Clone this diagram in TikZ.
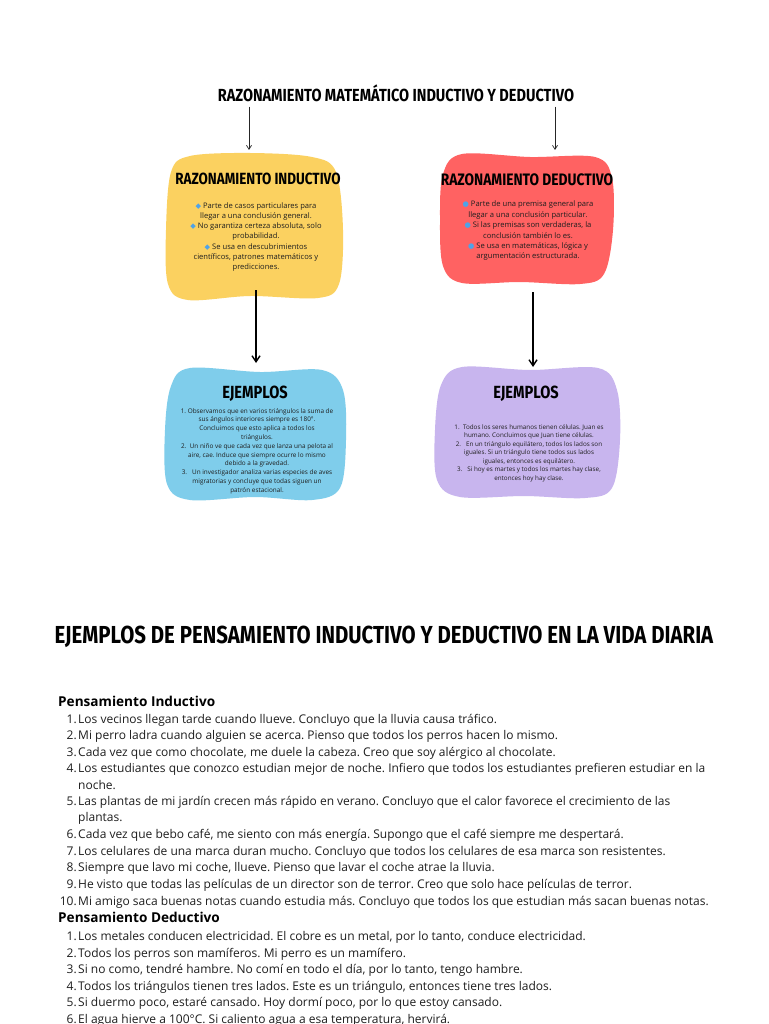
\documentclass[tikz,border=0pt]{standalone}
\usepackage{fontspec}
\setmainfont{Open Sans}
\newfontfamily\headfont[FakeStretch=0.83]{Fira Sans}
\newfontfamily\symfont{DejaVu Sans}
\usetikzlibrary{arrows.meta}
\frenchspacing
\definecolor{yel}{HTML}{FBD160}
\definecolor{redb}{HTML}{FF6262}
\definecolor{blu}{HTML}{7FCDEB}
\definecolor{pur}{HTML}{C8B5EE}
\definecolor{bul}{HTML}{4FA3E8}
\definecolor{txt}{HTML}{1E1E1E}
\newcommand{\dbul}{{\symfont\color{bul}\scalebox{0.95}{◆}}}
\newcommand{\cbul}{{\symfont\color{bul}\scalebox{0.95}{●}}}
\begin{document}
\begin{tikzpicture}[x=1pt,y=-1pt,
  headtxt/.style={font=\headfont\bfseries, text=black, inner sep=0pt},
  boxtxt/.style={align=center, inner sep=0pt, text=txt},
  thinarrow/.style={-{Straight Barb[length=4pt,width=5pt]}, line width=0.7pt, black!85},
  thickarrow/.style={-{Straight Barb[length=6pt,width=8pt]}, line width=1.4pt, black},
  num/.style={anchor=base east, inner sep=0pt, text=txt, font=\fontsize{12}{14}\selectfont},
  item/.style={anchor=base west, inner sep=0pt, text=txt, font=\fontsize{12}{14}\selectfont},
  sect/.style={anchor=base west, inner sep=0pt, text=black, font=\fontsize{13.6}{16}\selectfont\bfseries}]
\useasboundingbox (0,0) rectangle (768,1024);
\fill[white] (0,0) rectangle (768,1024);

% title
\node[headtxt, font=\headfont\bfseries\fontsize{17.5}{19}\selectfont] (title) at (396,93) {RAZONAMIENTO MATEMÁTICO INDUCTIVO Y DEDUCTIVO};

% blobs
\fill[yel] plot[smooth cycle, tension=0.55] coordinates {(190,156) (250,153) (312,157) (336,172) (343,230) (339,284) (318,298) (250,296) (188,300) (168,284) (166,230) (171,172)};
\fill[redb] plot[smooth cycle, tension=0.55] coordinates {(462,154) (530,157) (595,157) (612,178) (613,230) (604,274) (580,284) (520,282) (462,283) (443,266) (440,220) (443,174)};
\fill[blu] plot[smooth cycle, tension=0.55] coordinates {(190,368) (260,372) (322,370) (343,390) (346,440) (340,488) (312,500) (255,497) (190,500) (167,484) (165,430) (171,386)};
\fill[pur] plot[smooth cycle, tension=0.55] coordinates {(462,367) (530,370) (598,368) (617,390) (620,440) (612,488) (585,498) (525,496) (460,497) (437,480) (435,430) (441,385)};

\coordinate (yTop) at (249,150);
\coordinate (rTop) at (555,150);
\coordinate (yBot) at (256,290);
\coordinate (bTop) at (256,363);
\coordinate (rBot) at (533,292);
\coordinate (pTop) at (533,367);

% box titles
\node[headtxt, font=\headfont\bfseries\fontsize{16.2}{18}\selectfont] (yT) at (258,179) {RAZONAMIENTO INDUCTIVO};
\node[headtxt, font=\headfont\bfseries\fontsize{16.6}{18}\selectfont] (rT) at (527,180) {RAZONAMIENTO DEDUCTIVO};
\node[headtxt, font=\headfont\bfseries\fontsize{17.6}{19}\selectfont] (bT) at (255,394) {EJEMPLOS};
\node[headtxt, font=\headfont\bfseries\fontsize{17.6}{19}\selectfont] (pT) at (526,394) {EJEMPLOS};

% box texts
\node[boxtxt, font=\fontsize{7.6}{10.3}\selectfont] (yX) at (256,237) {\dbul\ Parte de casos particulares para\\ llegar a una conclusión general.\\ \dbul\ No garantiza certeza absoluta, solo\\ probabilidad.\\ \dbul\ Se usa en descubrimientos\\ científicos, patrones matemáticos y\\ predicciones.};
\node[boxtxt, font=\fontsize{7.6}{10.4}\selectfont] (rX) at (528,231) {\cbul\ Parte de una premisa general para\\ llegar a una conclusión particular.\\ \cbul\ Si las premisas son verdaderas, la\\ conclusión también lo es.\\ \cbul\ Se usa en matemáticas, lógica y\\ argumentación estructurada.};
\node[boxtxt, font=\fontsize{6.4}{8.8}\selectfont] (bX) at (257,451) {1. Observamos que en varios triángulos la suma de\\ sus ángulos interiores siempre es 180°.\\ Concluimos que esto aplica a todos los\\ triángulos.\\ 2.\ \ Un niño ve que cada vez que lanza una pelota al\\ aire, cae. Induce que siempre ocurre lo mismo\\ debido a la gravedad.\\ 3.\ \ \ Un investigador analiza varias especies de aves\\ migratorias y concluye que todas siguen un\\ patrón estacional.};
\node[boxtxt, font=\fontsize{6.3}{8.5}\selectfont] (pX) at (529,453) {1.\ \ Todos los seres humanos tienen células. Juan es\\ humano. Concluimos que Juan tiene células.\\ 2.\ \ \ En un triángulo equilátero, todos los lados son\\ iguales. Si un triángulo tiene todos sus lados\\ iguales, entonces es equilátero.\\ 3.\ \ \ Si hoy es martes y todos los martes hay clase,\\ entonces hoy hay clase.};

% arrows
\draw[thinarrow] (title.south -| yTop) ++(0,5) -- (yTop);
\draw[thinarrow] (title.south -| rTop) ++(0,5) -- (rTop);
\draw[thickarrow] (yBot) -- (bTop);
\draw[thickarrow] (rBot) -- (pTop);

% big heading
\node[headtxt, font=\headfont\bfseries\fontsize{24.6}{27}\selectfont] (h2) at (384,637) {EJEMPLOS DE PENSAMIENTO INDUCTIVO Y DEDUCTIVO EN LA VIDA DIARIA};

% lists
\node[sect] (s1) at (58,706) {Pensamiento Inductivo};
\node[num] (n1) at (77,723) {1.}; \node[item] (i1) at (78,723) {Los vecinos llegan tarde cuando llueve. Concluyo que la lluvia causa tráfico.};
\node[num] (n2) at (77,739) {2.}; \node[item] (i2) at (78,739) {Mi perro ladra cuando alguien se acerca. Pienso que todos los perros hacen lo mismo.};
\node[num] (n3) at (77,756) {3.}; \node[item] (i3) at (78,756) {Cada vez que como chocolate, me duele la cabeza. Creo que soy alérgico al chocolate.};
\node[num] (n4) at (77,772) {4.}; \node[item] (i4) at (78,772) {Los estudiantes que conozco estudian mejor de noche. Infiero que todos los estudiantes prefieren estudiar en la};
\node[item] (i4b) at (78,789) {noche.};
\node[num] (n5) at (77,805) {5.}; \node[item] (i5) at (78,805) {Las plantas de mi jardín crecen más rápido en verano. Concluyo que el calor favorece el crecimiento de las};
\node[item] (i5b) at (78,821) {plantas.};
\node[num] (n6) at (77,838) {6.}; \node[item] (i6) at (78,838) {Cada vez que bebo café, me siento con más energía. Supongo que el café siempre me despertará.};
\node[num] (n7) at (77,855) {7.}; \node[item] (i7) at (78,855) {Los celulares de una marca duran mucho. Concluyo que todos los celulares de esa marca son resistentes.};
\node[num] (n8) at (77,871) {8.}; \node[item] (i8) at (78,871) {Siempre que lavo mi coche, llueve. Pienso que lavar el coche atrae la lluvia.};
\node[num] (n9) at (77,888) {9.}; \node[item] (i9) at (78,888) {He visto que todas las películas de un director son de terror. Creo que solo hace películas de terror.};
\node[num] (n10) at (77,905) {10.}; \node[item] (i10) at (78,905) {Mi amigo saca buenas notas cuando estudia más. Concluyo que todos los que estudian más sacan buenas notas.};
\node[sect] (s2) at (58,922) {Pensamiento Deductivo};
\node[num] (d1) at (77,940) {1.}; \node[item] (j1) at (78,940) {Los metales conducen electricidad. El cobre es un metal, por lo tanto, conduce electricidad.};
\node[num] (d2) at (77,957) {2.}; \node[item] (j2) at (78,957) {Todos los perros son mamíferos. Mi perro es un mamífero.};
\node[num] (d3) at (77,973) {3.}; \node[item] (j3) at (78,973) {Si no como, tendré hambre. No comí en todo el día, por lo tanto, tengo hambre.};
\node[num] (d4) at (77,990) {4.}; \node[item] (j4) at (78,990) {Todos los triángulos tienen tres lados. Este es un triángulo, entonces tiene tres lados.};
\node[num] (d5) at (77,1006) {5.}; \node[item] (j5) at (78,1006) {Si duermo poco, estaré cansado. Hoy dormí poco, por lo que estoy cansado.};
\node[num] (d6) at (77,1023) {6.}; \node[item] (j6) at (78,1023) {El agua hierve a 100°C. Si caliento agua a esa temperatura, hervirá.};
\end{tikzpicture}
\end{document}
